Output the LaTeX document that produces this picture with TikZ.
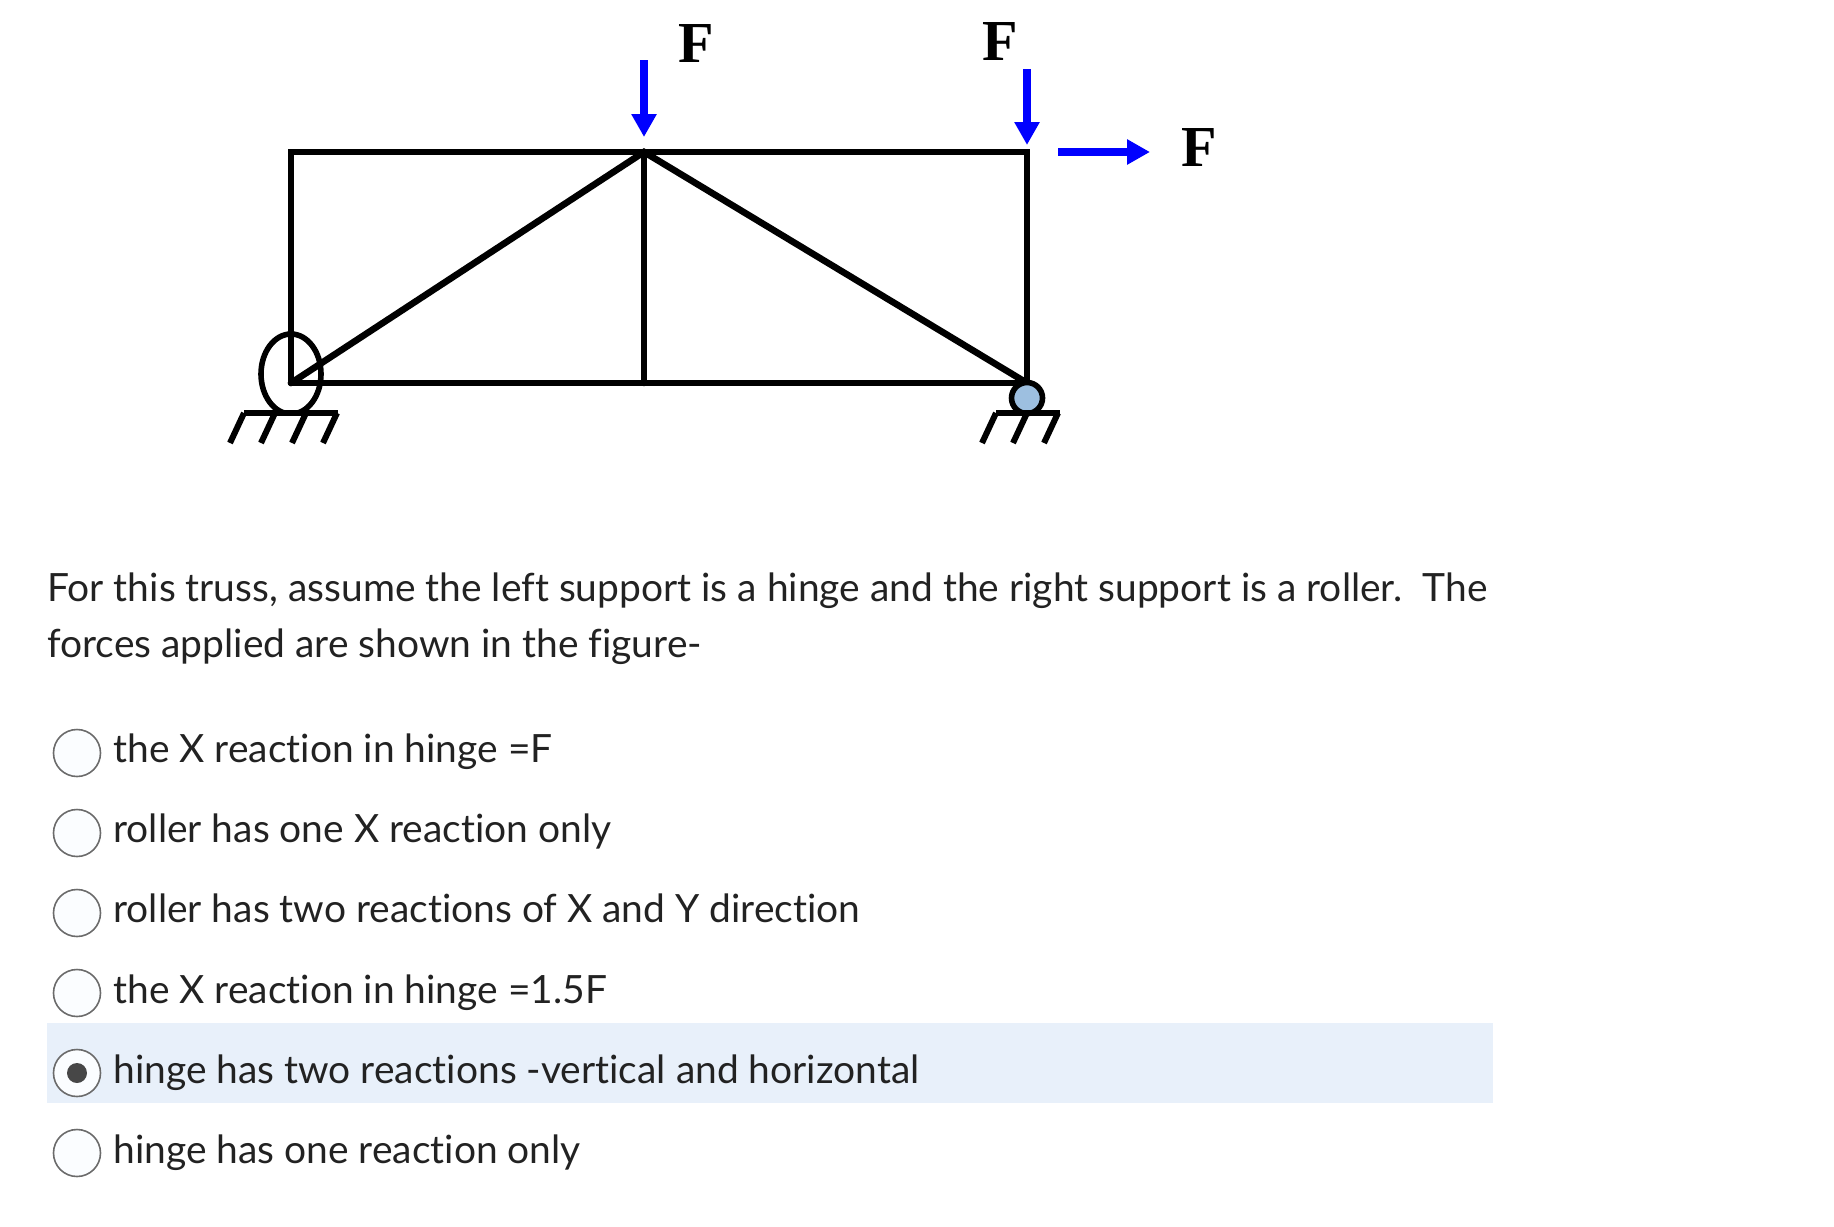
\documentclass[tikz,border=0pt]{standalone}
\usepackage{fontspec}
\setmainfont{Lato}[Ligatures=NoCommon]
\newfontfamily\trussfont{Liberation Serif}
\usepackage{tikz}
\usetikzlibrary{positioning,arrows.meta}
\definecolor{rowblue}{HTML}{E8F0FA}
\definecolor{pinblue}{HTML}{9DBFE0}
\definecolor{inkgrey}{HTML}{222222}
\definecolor{radiofill}{HTML}{FBFDFF}
\tikzset{member/.style={line width=3.3pt,line cap=round},
         ground/.style={line width=3pt},
         force/.style={blue,line width=4pt,-{Triangle[length=11.5pt,width=12pt]}},
         load/.style={font=\trussfont\fontsize{29}{29}\selectfont\bfseries,inner sep=0pt},
         radio/.style={circle,draw=black!58,line width=.8pt,fill=radiofill,minimum size=23.5pt,inner sep=0pt},
         answer/.style={font=\fontsize{19.47}{28}\selectfont,text=inkgrey,inner sep=0pt}
}
\begin{document}
\begin{tikzpicture}[x=.5pt,y=-.5pt]
  \useasboundingbox (0,0) rectangle (1834,1226);
  \fill[rowblue] (47,1023) rectangle (1493,1103);
  % joints
  \coordinate (tl) at (291,152);
  \coordinate (tm) at (644,152);
  \coordinate (tr) at (1027,152);
  \coordinate (bl) at (291,383);
  \coordinate (bm) at (644,383);
  \coordinate (br) at (1027,383);
  \draw[member] (bl) -- (tl) -- (tm) -- (tr) -- (br) -- (bm) -- (bl);
  \draw[member] (bl) -- (tm) -- (br);
  \draw[member] (tm) -- (bm);
  % left support
  \begin{scope}
    \clip (240,320) rectangle (345,413);
    \draw[line width=2.8pt] (291,374) ellipse [x radius=30,y radius=40];
  \end{scope}
  \coordinate (gl) at (244,413);
  \coordinate (gr) at (338,413);
  \draw[ground] (gl) -- (gr);
  \foreach \x in {244,275,306,337}
    \draw[ground] (\x,413) -- (\x-14,443);
  % right support
  \node[circle,draw,line width=2.8pt,fill=pinblue,minimum size=15.5pt,inner sep=0pt] (pin) at (1027,398) {};
  \coordinate (hl) at (996,413);
  \coordinate (hr) at (1060,413);
  \draw[ground] (hl) -- (hr);
  \foreach \x in {996,1027,1058}
    \draw[ground] (\x,413) -- (\x-14,443);
  % forces
  \coordinate (fa) at (644,60);
  \coordinate (fb) at (644,137);
  \coordinate (fc) at (1027,69);
  \coordinate (fd) at (1027,145);
  \coordinate (fe) at (1058,152);
  \coordinate (ff) at (1150,152);
  \draw[force] (fa) -- (fb);
  \draw[force] (fc) -- (fd);
  \draw[force] (fe) -- (ff);
  \node[load] (f1) at (696,44) {F};
  \node[load] (f2) at (1000,42) {F};
  \node[load] (f3) at (1199,148) {F};
  % question
  \node[answer,anchor=base west,align=left] (q) at (47,657) {For this truss, assume the left support is a hinge and the right support is a roller.\ \ The\\forces applied are shown in the figure-};
  % answers
  \node[radio] (r1) at (77,753) {};
  \node[radio,below=15.7pt of r1] (r2) {};
  \node[radio,below=15.7pt of r2] (r3) {};
  \node[radio,below=15.7pt of r3] (r4) {};
  \node[radio,below=15.7pt of r4] (r5) {};
  \node[radio,below=15.7pt of r5] (r6) {};
  \fill[black!72] (r5) circle (10);
  \node[answer,anchor=base west] (a1) at (113,762.5) {the X reaction in hinge =F};
  \node[answer,below=40.1pt of a1.base west,anchor=base west] (a2) {roller has one X reaction only};
  \node[answer,below=40.1pt of a2.base west,anchor=base west] (a3) {roller has two reactions of X and Y direction};
  \node[answer,below=40.1pt of a3.base west,anchor=base west] (a4) {the X reaction in hinge =1.5F};
  \node[answer,below=40.1pt of a4.base west,anchor=base west] (a5) {hinge has two reactions -vertical and horizontal};
  \node[answer,below=40.1pt of a5.base west,anchor=base west] (a6) {hinge has one reaction only};
\end{tikzpicture}
\end{document}
